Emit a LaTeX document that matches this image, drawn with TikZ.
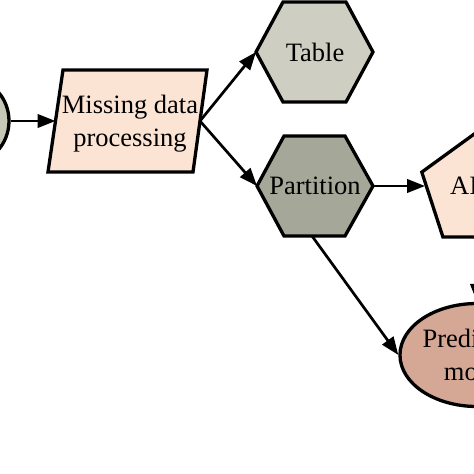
\documentclass[tikz,border=0pt]{standalone}
\usepackage{fontspec}
\setmainfont{Liberation Serif}
\usetikzlibrary{arrows.meta,shapes.geometric}
\definecolor{srcfill}{HTML}{C6C8B6}
\definecolor{peach}{HTML}{FCE4D5}
\definecolor{tablefill}{HTML}{CFCEC2}
\definecolor{partfill}{HTML}{A5A898}
\definecolor{predfill}{HTML}{D5A795}
\begin{document}
\begin{tikzpicture}[x=1pt,y=-1pt,
  lbl/.style={font=\fontsize{26.5}{33}\selectfont, align=center, inner sep=0pt, text=black},
  outline/.style={draw=black, line width=3.3pt, line join=miter},
  conn/.style={draw=black, line width=2.7pt, -{Triangle[length=18pt,width=13.5pt]}},
]
\useasboundingbox (0,0) rectangle (474,474);
\fill[white] (0,0) rectangle (474,474);
\clip (0,0) rectangle (474,474);

% source ellipse (cut off at the left)
\node[outline, ellipse, fill=srcfill, minimum width=78pt, minimum height=84pt, inner sep=0pt] (src) at (-30,121) {};

% parallelogram
\draw[outline, fill=peach] (48,172) -- (63,70) -- (207,70) -- (193,172) -- cycle;
\node[lbl] (md) at (130,123.5) {Missing data\\processing};
\coordinate (mdW) at (55.5,121);
\coordinate (mdE) at (200,121);

% Table hexagon
\draw[outline, fill=tablefill] (256,52) -- (283,2) -- (346,2) -- (373,52) -- (346,102) -- (283,102) -- cycle;
\node[lbl] (table) at (315,52) {Table};
\coordinate (tableW) at (256,52);

% Partition hexagon
\draw[outline, fill=partfill] (257,186) -- (284,136) -- (345,136) -- (373,186) -- (345,236) -- (284,236) -- cycle;
\node[lbl] (part) at (315,186) {Partition};
\coordinate (partW) at (257,186);
\coordinate (partE) at (373,186);
\coordinate (partS) at (312,236);

% AI pentagon (cut off at the right)
\draw[outline, fill=peach] (477,132) -- (421.8,172.1) -- (442.9,236.9) -- (511.1,236.9) -- (532.2,172.1) -- cycle;
\node[lbl, anchor=west] (ai) at (450,186) {AI};
\coordinate (aiW) at (425,186);
\coordinate (aiS) at (477,237);

% Prediction ellipse
\node[outline, ellipse, fill=predfill, minimum width=152pt, minimum height=103pt, inner sep=0pt, lbl] (pred) at (477,355) {Prediction\\model};

% connectors
\draw[conn] (src.east) -- (mdW);
\draw[conn] (mdE) -- (tableW);
\draw[conn] (mdE) -- (partW);
\draw[conn] (partE) -- (aiW);
\draw[conn] (partS) -- (pred.west);
\draw[conn] (aiS) -- (pred.north);
\end{tikzpicture}
\end{document}
